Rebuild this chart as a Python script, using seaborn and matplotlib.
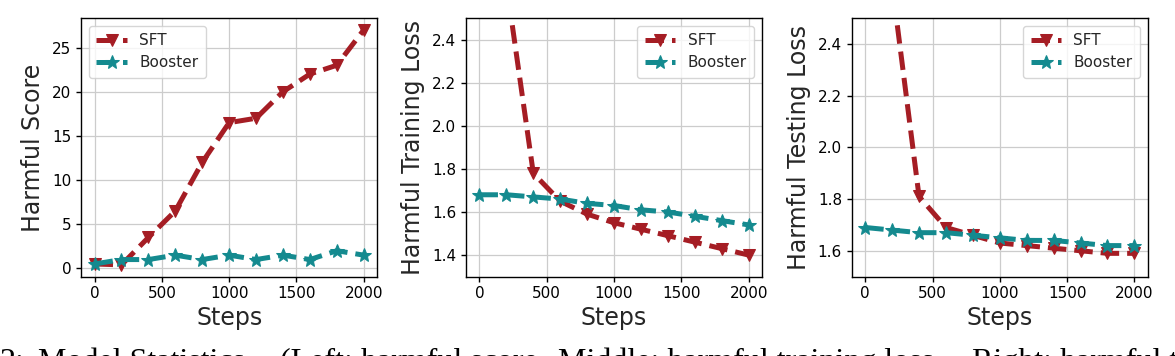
import numpy as np
import pandas as pd
import matplotlib
matplotlib.use('Agg')
import matplotlib.pyplot as plt
import seaborn as sns

steps = [0, 200, 400, 600, 800, 1000, 1200, 1400, 1600, 1800, 2000]

score_sft = [0.5, 0.4, 3.5, 6.5, 12.0, 16.5, 17.0, 20.0, 22.0, 23.0, 27.0]
score_booster = [0.5, 1.0, 1.0, 1.5, 1.0, 1.5, 1.0, 1.5, 1.0, 2.0, 1.5]

train_sft = [3.0, 2.66, 1.78, 1.65, 1.59, 1.55, 1.52, 1.49, 1.46, 1.43, 1.40]
train_booster = [1.68, 1.68, 1.67, 1.66, 1.64, 1.63, 1.61, 1.60, 1.58, 1.56, 1.54]

test_sft = [3.0, 2.63, 1.81, 1.69, 1.66, 1.63, 1.62, 1.61, 1.60, 1.59, 1.59]
test_booster = [1.69, 1.68, 1.67, 1.67, 1.66, 1.65, 1.64, 1.64, 1.63, 1.62, 1.62]

methods = ['SFT', 'Booster']
colors = {'SFT': '#a51d24', 'Booster': '#148a8f'}
markers = {'SFT': 'v', 'Booster': '*'}
msizes = {'SFT': 9, 'Booster': 10}

panels = [
    ('Harmful Score', score_sft, score_booster, None, 'upper left'),
    ('Harmful Training Loss', train_sft, train_booster, (1.3, 2.5), 'upper right'),
    ('Harmful Testing Loss', test_sft, test_booster, (1.5, 2.5), 'upper right'),
]

# caption under the figure, only its top shows (justified text, so placed in pieces)
caption_parts = [
    (0.0, '2:'),
    (38.0, 'Model Statistics'),
    (280.0, '(Left: harmful score,'),
    (558.0, 'Middle: harmful training loss,'),
    (972.0, 'Right: harmful testing loss)'),
]

sns.set_theme(style='ticks')
plt.rcParams['font.family'] = ['DejaVu Sans']

fig = plt.figure(figsize=(11.75, 3.56), dpi=100)
lefts = [0.069, 0.3966, 0.7249]

for left, (ylabel, sft, booster, ylim, loc) in zip(lefts, panels):
    ax = fig.add_axes([left, 0.223, 0.252, 0.726])
    df = pd.DataFrame({
        'Steps': steps * 2,
        'value': sft + booster,
        'method': ['SFT'] * len(steps) + ['Booster'] * len(steps),
    })
    for m in methods:
        sub = df[df['method'] == m]
        sns.lineplot(data=sub, x='Steps', y='value', ax=ax, color=colors[m],
                     marker=markers[m], markersize=msizes[m],
                     markeredgecolor=colors[m], linestyle='--', linewidth=3.6,
                     label=m)
    if ylim is not None:
        ax.set_ylim(*ylim)
    ax.set_xticks([0, 500, 1000, 1500, 2000])
    ax.grid(True, color='#cccccc', linewidth=0.9)
    ax.set_axisbelow(True)
    for s in ax.spines.values():
        s.set_color('black')
        s.set_linewidth(1.0)
    ax.tick_params(labelsize=11, colors='black', length=3.5, width=1)
    ax.set_xlabel('Steps', fontsize=17, labelpad=3)
    ax.set_ylabel(ylabel, fontsize=17, labelpad=5)
    ax.legend(loc=loc, fontsize=11, frameon=True, handlelength=2.0,
              borderpad=0.5, labelspacing=0.45, fancybox=True, framealpha=0.8)

for x, txt in caption_parts:
    fig.text(x / 1175, -0.038, txt, fontsize=23, family='Liberation Serif',
             va='baseline', ha='left', color='black')

fig.savefig('out.png', dpi=100)
